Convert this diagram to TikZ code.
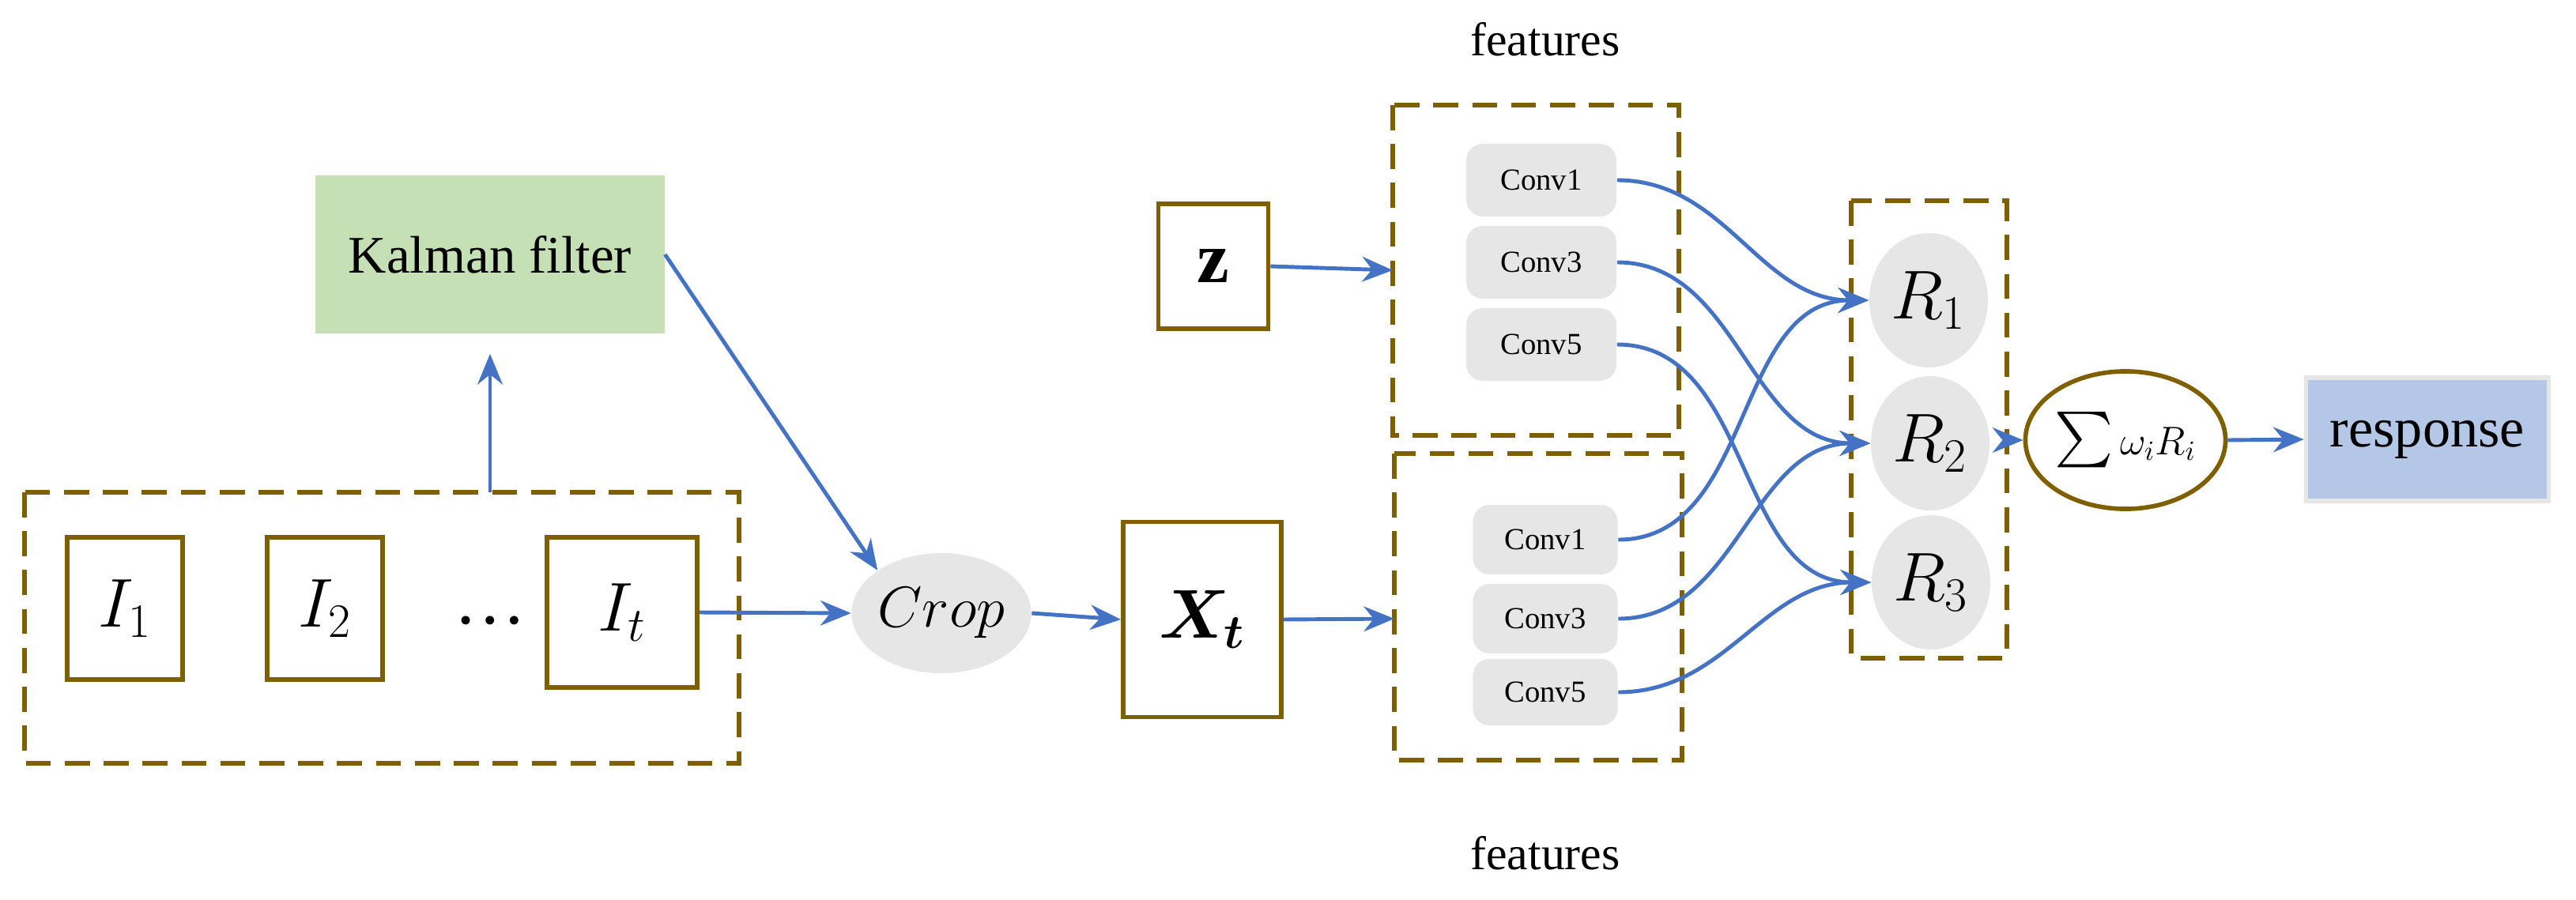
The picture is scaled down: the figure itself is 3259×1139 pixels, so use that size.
\documentclass[tikz,border=0pt]{standalone}
\usepackage{amsmath,amssymb,bm}
\usepackage{fontspec}
\setmainfont{Liberation Serif}
\usetikzlibrary{arrows.meta,shapes.geometric}
\definecolor{brn}{HTML}{7F6000}
\definecolor{blu}{HTML}{4472C4}
\definecolor{grn}{HTML}{C5E0B4}
\definecolor{gry}{HTML}{E6E6E6}
\definecolor{rsp}{HTML}{B4C7E7}
\tikzset{
 x=0.01cm,y=-0.01cm,
 img/.style={draw=brn,line width=1.6pt,minimum width=1.46cm,minimum height=1.80cm,inner sep=0,font=\fontsize{26}{30}\selectfont},
 dbox/.style={draw=brn,line width=1.6pt,dash pattern=on 9pt off 5pt},
 conv/.style={fill=gry,rounded corners=6pt,minimum width=1.90cm,minimum height=0.92cm,inner sep=0,font=\fontsize{11}{13}\selectfont},
 rell/.style={ellipse,fill=gry,minimum width=1.50cm,minimum height=1.70cm,inner sep=0,font=\fontsize{24}{28}\selectfont},
 arr/.style={draw=blu,line width=1.4pt,-{Stealth[length=11pt,width=9pt]}},
 carr/.style={arr,out=0,in=180,looseness=1}
}
\begin{document}
\begin{tikzpicture}
\useasboundingbox (0,0) rectangle (3259,1139);
% left group
\draw[dbox] (31,623) rectangle (935,966);
\node[img] (i1) at (158,770) {$I_1$};
\node[img] (i2) at (411,770) {$I_2$};
\node[font=\fontsize{26}{30}\selectfont] (dots) at (620,785) {\ldots};
\node[img,minimum width=1.90cm,minimum height=1.90cm] (it) at (787,775) {$I_t$};
\coordinate (gtop) at (620,623);
\node[fill=grn,minimum width=4.41cm,minimum height=2.00cm,inner sep=0,font=\fontsize{19}{23}\selectfont] (kal) at (620,322) {Kalman filter};
\draw[arr] (gtop) -- ([yshift=-0.25cm]kal.south);
\node[ellipse,fill=gry,minimum width=1.90cm,minimum height=1.52cm,inner sep=0,font=\fontsize{22}{26}\selectfont] (crop) at (1191,776) {$Crop$};
\draw[arr] (kal.east) -- (crop.north west);
\draw[arr] (it.east) -- (crop.west);
\node[img,minimum width=2.00cm,minimum height=2.47cm] (xt) at (1521,784) {$\bm{X_t}$};
\node[img,minimum width=1.39cm,minimum height=1.58cm] (z) at (1535,337) {$\mathbf{z}$};
\draw[arr] (crop.east) -- (xt.west);
% features boxes
\draw[dbox] (1762,133) rectangle (2124,551);
\draw[dbox] (1764,574) rectangle (2128,962);
\coordinate (ftop) at (1762,342);
\coordinate (fbot) at (1764,783);
\draw[arr] (z.east) -- (ftop);
\draw[arr] (xt.east) -- (fbot);
\node[font=\fontsize{17}{20}\selectfont] (lt) at (1955,50) {features};
\node[font=\fontsize{17}{20}\selectfont] (lb) at (1955,1080) {features};
\node[conv] (a1) at (1950,228) {Conv1};
\node[conv] (a3) at (1950,332) {Conv3};
\node[conv] (a5) at (1950,436) {Conv5};
\node[conv,minimum width=1.83cm,minimum height=0.88cm] (b1) at (1955,683) {Conv1};
\node[conv,minimum width=1.83cm,minimum height=0.88cm] (b3) at (1955,783) {Conv3};
\node[conv,minimum width=1.83cm,minimum height=0.84cm] (b5) at (1955,876) {Conv5};
% R group
\draw[dbox] (2342,254) rectangle (2539,833);
\node[rell] (r1) at (2440,380) {$R_1$};
\node[rell] (r2) at (2442,561) {$R_2$};
\node[rell] (r3) at (2443,737) {$R_3$};
\coordinate (rb) at (2539,557);
\draw[carr] (a1.east) to (r1.west);
\draw[carr] (a3.east) to (r2.west);
\draw[carr] (a5.east) to (r3.west);
\draw[carr] (b1.east) to (r1.west);
\draw[carr] (b3.east) to (r2.west);
\draw[carr] (b5.east) to (r3.west);
\node[ellipse,draw=brn,line width=1.6pt,minimum width=1.66cm,minimum height=1.74cm,inner sep=0,font=\fontsize{20}{24}\selectfont] (sum) at (2689,557) {$\sum\scriptstyle\omega_i R_i$};
\node[fill=rsp,draw=gry,line width=1.5pt,minimum width=3.07cm,minimum height=1.56cm,inner sep=0,font=\fontsize{20}{24}\selectfont] (resp) at (3071,556) {response};
\draw[arr] (rb) -- (sum.west);
\draw[arr] (sum.east) -- (resp.west);
\end{tikzpicture}
\end{document}
